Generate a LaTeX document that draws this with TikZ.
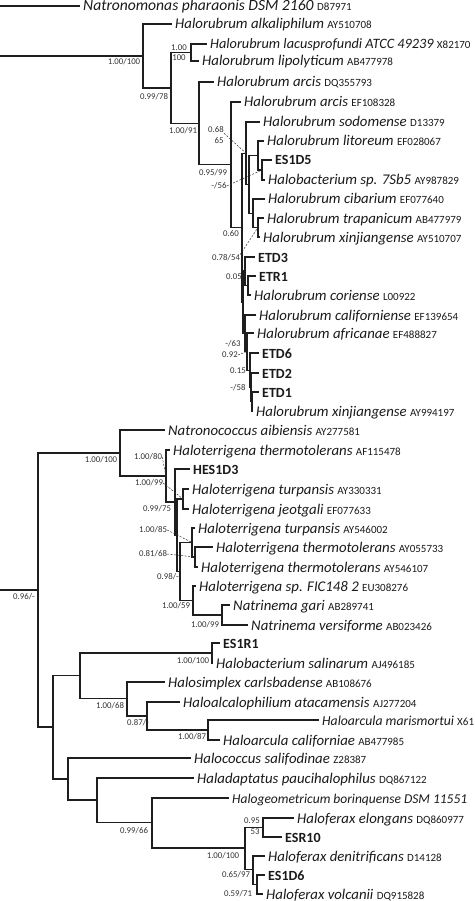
\documentclass[tikz,border=0pt]{standalone}
\usepackage{fontspec}
\setmainfont{Carlito}
\definecolor{lc}{HTML}{1E1E1E}
\definecolor{tc}{HTML}{1A1A1A}
\definecolor{sc}{HTML}{333333}
\newcommand\taxon[2]{{\itshape #1} {\fontsize{11}{12}\selectfont #2}}
\begin{document}
\begin{tikzpicture}[x=1pt,y=-1pt,
  br/.style={line width=1.2pt, draw=lc},
  leaf/.style={anchor=west, inner xsep=3pt, inner ysep=0pt, text height=10pt, text depth=0pt, font=\fontsize{14.8}{16}\selectfont, text=tc},
  strain/.style={leaf, font=\fontsize{14}{16}\selectfont\bfseries},
  bs/.style={font=\fontsize{8.8}{10}\selectfont, text=sc, inner sep=0pt},
  lead/.style={draw=sc, line width=0.5pt, dash pattern=on 2pt off 1.5pt}]
\useasboundingbox (0,0) rectangle (474,901);
% root ends
\coordinate (r1) at (0,6);
\coordinate (r2) at (0,56);
\coordinate (r3) at (0,590);
% internal nodes
\coordinate (A) at (143,56);
\coordinate (B) at (171,88);
\coordinate (C) at (191,52.5);
\coordinate (D) at (199,123.4);
\coordinate (E) at (231,164.8);
\coordinate (F) at (242,227.6);
\coordinate (G) at (246,153.25);
\coordinate (G2) at (249,184.5);
\coordinate (G3) at (258,155.5);
\coordinate (G5) at (262,170);
\coordinate (G4) at (253,213.25);
\coordinate (G6) at (258,227.5);
\coordinate (H) at (243,302);
\coordinate (K0) at (245,271);
\coordinate (K1) at (248,285.5);
\coordinate (P) at (245,333.25);
\coordinate (L0) at (247,351.5);
\coordinate (L1) at (250,370.1);
\coordinate (L2) at (251,387.25);
\coordinate (L3) at (252,401.5);
\coordinate (R2) at (38,590);
\coordinate (N1) at (120,453);
\coordinate (H1) at (166,476);
\coordinate (H2) at (175,502);
\coordinate (H2b) at (177,535);
\coordinate (H3) at (183,499);
\coordinate (H6) at (180,571.5);
\coordinate (H5) at (192,542.5);
\coordinate (Hp) at (195,557);
\coordinate (H7) at (193,600.5);
\coordinate (Hn) at (222,615);
\coordinate (N2) at (53,727);
\coordinate (N3) at (80,675.75);
\coordinate (N4) at (212,653);
\coordinate (N5) at (127,698.75);
\coordinate (N6) at (147,716);
\coordinate (N7) at (208,730);
\coordinate (N8) at (68,779);
\coordinate (N9) at (97,800);
\coordinate (N10) at (152,822.5);
\coordinate (N11) at (245,848);
\coordinate (N12) at (263,827.5);
\coordinate (N13) at (253,869.5);
\coordinate (N14) at (257,884.5);
% leaves
\node[leaf, font=\fontsize{15.6}{17}\selectfont] (nat) at (80,6) {\taxon{Natronomonas pharaonis DSM 2160}{D87971}};
\node[leaf] (alk) at (172,24) {\taxon{Halorubrum alkaliphilum}{AY510708}};
\node[leaf, font=\fontsize{14.3}{16}\selectfont] (lac) at (207,44) {\taxon{Halorubrum lacusprofundi ATCC 49239}{X82170}};
\node[leaf] (lip) at (199,61) {\taxon{Halorubrum lipolyticum}{AB477978}};
\node[leaf] (arDQ) at (214,82) {\taxon{Halorubrum arcis}{DQ355793}};
\node[leaf] (arEF) at (241,102) {\taxon{Halorubrum arcis}{EF108328}};
\node[leaf] (sod) at (260,122) {\taxon{Halorubrum sodomense}{D13379}};
\node[leaf] (lit) at (264,141) {\taxon{Halorubrum litoreum}{EF028067}};
\node[strain] (es1d5) at (272,160) {ES1D5};
\node[leaf] (sb5) at (265,180) {\taxon{Halobacterium sp. 7Sb5}{AY987829}};
\node[leaf] (cib) at (265,199) {\taxon{Halorubrum cibarium}{EF077640}};
\node[leaf] (tra) at (264,218) {\taxon{Halorubrum trapanicum}{AB477979}};
\node[leaf] (xj1) at (260,237) {\taxon{Halorubrum xinjiangense}{AY510707}};
\node[strain] (etd3) at (255,257) {ETD3};
\node[strain] (etr1) at (256,276) {ETR1};
\node[leaf] (cor) at (251,295) {\taxon{Halorubrum coriense}{L00922}};
\node[leaf] (cal) at (256,315) {\taxon{Halorubrum californiense}{EF139654}};
\node[leaf] (afr) at (254,333) {\taxon{Halorubrum africanae}{EF488827}};
\node[strain] (etd6) at (259,353) {ETD6};
\node[strain] (etd2) at (259,373) {ETD2};
\node[strain] (etd1) at (259,392) {ETD1};
\node[leaf] (xj2) at (253,411) {\taxon{Halorubrum xinjiangense}{AY994197}};
\node[leaf] (ncc) at (165,430) {\taxon{Natronococcus aibiensis}{AY277581}};
\node[leaf] (ht1) at (170,450) {\taxon{Haloterrigena thermotolerans}{AF115478}};
\node[strain] (hes) at (190,469) {HES1D3};
\node[leaf] (htu1) at (189,489) {\taxon{Haloterrigena turpansis}{AY330331}};
\node[leaf] (hje) at (189,509) {\taxon{Haloterrigena jeotgali}{EF077633}};
\node[leaf] (htu2) at (195,528) {\taxon{Haloterrigena turpansis}{AY546002}};
\node[leaf] (ht2) at (213,547) {\taxon{Haloterrigena thermotolerans}{AY055733}};
\node[leaf] (ht3) at (198,567) {\taxon{Haloterrigena thermotolerans}{AY546107}};
\node[leaf] (hfic) at (196,586) {\taxon{Haloterrigena sp. FIC148 2}{EU308276}};
\node[leaf] (ngar) at (230,605) {\taxon{Natrinema gari}{AB289741}};
\node[leaf] (nver) at (248,625) {\taxon{Natrinema versiforme}{AB023426}};
\node[strain] (es1r1) at (220,643) {ES1R1};
\node[leaf] (hsal) at (213,663) {\taxon{Halobacterium salinarum}{AJ496185}};
\node[leaf] (hsim) at (165,682) {\taxon{Halosimplex carlsbadense}{AB108676}};
\node[leaf] (hata) at (180,702) {\taxon{Haloalcalophilium atacamensis}{AJ277204}};
\node[leaf, font=\fontsize{13.7}{16}\selectfont] (hmar) at (319,720) {\taxon{Haloarcula marismortui}{X61}};
\node[leaf] (hcal) at (220,740) {\taxon{Haloarcula californiae}{AB477985}};
\node[leaf] (hcoc) at (191,758) {\taxon{Halococcus salifodinae}{Z28387}};
\node[leaf] (hpau) at (194,778) {\taxon{Haladaptatus paucihalophilus}{DQ867122}};
\node[leaf, font=\fontsize{13.5}{16}\selectfont] (hbor) at (229,798) {\itshape Halogeometricum borinquense DSM 11551};
\node[leaf] (hel) at (294,818) {\taxon{Haloferax elongans}{DQ860977}};
\node[strain] (esr10) at (282,837) {ESR10};
\node[leaf] (hden) at (265,856) {\taxon{Haloferax denitrificans}{D14128}};
\node[strain] (es1d6) at (265,875) {ES1D6};
\node[leaf] (hvol) at (263,894) {\taxon{Haloferax volcanii}{DQ915828}};
% branches
\draw[br] (r1) -- (nat.west);
\draw[br] (r2) -- (A);
\draw[br] (r3) -- (R2);
\foreach \p/\c in {A/alk.west, A/B, B/C, B/D, C/lac.west, C/lip.west,
  D/arDQ.west, D/E, E/arEF.west, E/F, F/G, F/H, G/sod.west, G/G2,
  G2/G3, G2/G4, G3/lit.west, G3/G5, G5/es1d5.west, G5/sb5.west,
  G4/cib.west, G4/G6, G6/tra.west, G6/xj1.west,
  H/K0, H/P, K0/etd3.west, K0/K1, K1/etr1.west, K1/cor.west,
  P/cal.west, P/L0, L0/afr.west, L0/L1, L1/etd6.west, L1/L2,
  L2/etd2.west, L2/L3, L3/etd1.west, L3/xj2.west,
  R2/N1, R2/N2, N1/ncc.west, N1/H1, H1/ht1.west, H1/H2,
  H2/hes.west, H2/H2b, H2b/H3, H2b/H6, H3/htu1.west, H3/hje.west,
  H6/H5, H6/H7, H5/htu2.west, H5/Hp, Hp/ht2.west, Hp/ht3.west,
  H7/hfic.west, H7/Hn, Hn/ngar.west, Hn/nver.west,
  N2/N3, N2/N8, N3/N4, N3/N5, N4/es1r1.west, N4/hsal.west,
  N5/hsim.west, N5/N6, N6/hata.west, N6/N7, N7/hmar.west, N7/hcal.west,
  N8/hcoc.west, N8/N9, N9/hpau.west, N9/N10, N10/hbor.west, N10/N11,
  N11/N12, N11/N13, N12/hel.west, N12/esr10.west,
  N13/hden.west, N13/N14, N14/es1d6.west, N14/hvol.west}
  \draw[br] (\p) |- (\c);
% support values
\node[bs] (s1) at (124,62) {1.00/100};
\node[bs] (s2) at (179,48) {1.00};
\node[bs] (s3) at (179,58) {100};
\node[bs] (s4) at (154,97) {0.99/78};
\node[bs] (s5) at (183,131) {1.00/91};
\node[bs] (s6) at (216,130) {0.68};
\node[bs] (s7) at (219,141) {65};
\node[bs] (s8) at (213,173) {0.95/99};
\node[bs] (s9) at (219,186) {-/56};
\node[bs] (s10) at (231,234) {0.60};
\node[bs] (s11) at (226,258) {0.78/54};
\node[bs] (s12) at (234,277) {0.05};
\node[bs] (s13) at (233,344) {-/63};
\node[bs] (s14) at (230,355) {0.92};
\node[bs] (s15) at (238,371) {0.15};
\node[bs] (s16) at (238,388) {-/58};
\node[bs] (s17) at (101,460) {1.00/100};
\node[bs] (s18) at (148,457) {1.00/80};
\node[bs] (s19) at (149,483) {1.00/99};
\node[bs] (s20) at (157,509) {0.99/75};
\node[bs] (s21) at (153,530) {1.00/85};
\node[bs] (s22) at (153,554) {0.81/68};
\node[bs] (s23) at (168,577) {0.98/-};
\node[bs] (s24) at (176,606) {1.00/59};
\node[bs] (s25) at (205,625) {1.00/99};
\node[bs] (s26) at (193,661) {1.00/100};
\node[bs] (s27) at (110,706) {1.00/68};
\node[bs] (s28) at (138,723) {0.87/-};
\node[bs] (s29) at (192,737) {1.00/87};
\node[bs] (s30) at (24,597) {0.96/-};
\node[bs] (s31) at (134,831) {0.99/66};
\node[bs] (s32) at (223,856) {1.00/100};
\node[bs] (s33) at (252,821) {0.95};
\node[bs] (s34) at (255,832) {53};
\node[bs] (s35) at (236,875) {0.65/97};
\node[bs] (s36) at (238,894) {0.59/71};
% leaders
\draw[lead] (s6.south east) -- (G);
\draw[lead] (s9.east) -- (G5);
\draw[lead] (s11.north east) -- (G6);
\draw[lead] (s14.east) -- (L0);
\draw[lead] (s18.east) -- (H1);
\draw[lead] (s19.east) -- (H3);
\draw[lead] (s21.east) -- (H5);
\draw[lead] (s22.east) -- (Hp);
\end{tikzpicture}
\end{document}
